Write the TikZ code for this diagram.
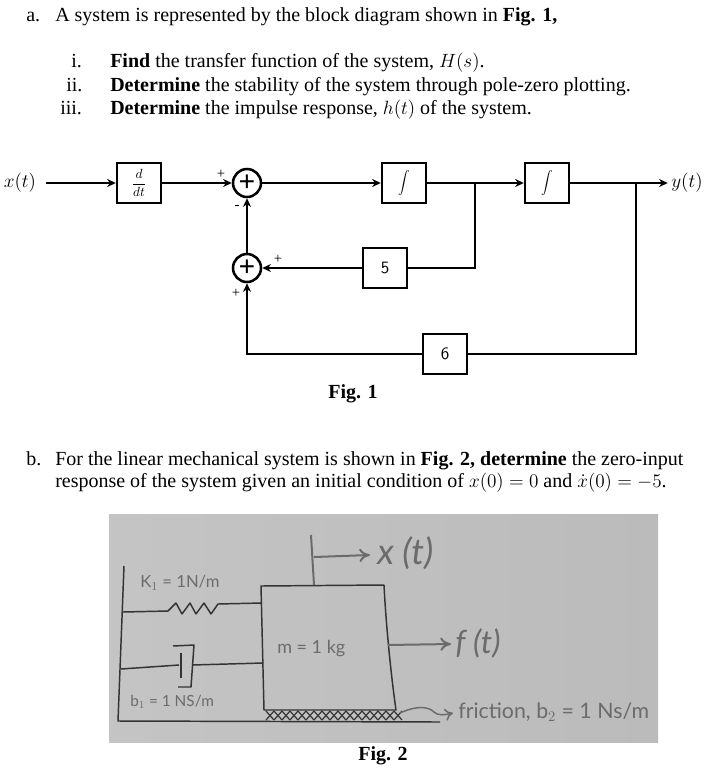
\documentclass[tikz,border=0pt]{standalone}
\usepackage{amsmath,amssymb}
\usepackage{fontspec}
\setmainfont{Liberation Serif}
\newfontfamily\mao{Lato}
\usepackage{xcolor}
\usetikzlibrary{arrows.meta}
\usetikzlibrary{positioning}
\definecolor{papel}{gray}{0.78}
\definecolor{caneta}{gray}{0.2}
\definecolor{lapis}{gray}{0.42}
\newcommand{\corpo}[1]{\fontsize{#1}{#1}\selectfont}
\tikzset{
  texto/.style={anchor=base west, inner sep=0pt, font=\corpo{15}},
  bloco/.style={draw, line width=1.8pt, minimum width=33pt, minimum height=30pt, inner sep=0pt, font=\sffamily\corpo{13}},
  soma/.style={draw, circle, line width=1.9pt, minimum size=21pt, inner sep=0pt, font=\corpo{22}\bfseries},
  sinal/.style={inner sep=0pt, font=\corpo{11}},
  linha/.style={line width=1.7pt},
  seta/.style={linha, -{Stealth[length=6.5pt,width=6pt]}},
  mola/.style={caneta, line width=1.1pt, line join=round},
  escrita/.style={lapis, inner sep=0pt, anchor=west},
  traco/.style={lapis, line width=1.5pt, -{To[length=8pt,width=10pt]}},
}
\begin{document}
\begin{tikzpicture}[x=0.75pt, y=-0.75pt]
  \useasboundingbox (0,0) rectangle (706,769);

  % Enunciado a
  \node[texto] (a0) at (26,21) {a.};
  \node[texto] (a0t) at (55,21) {A system is represented by the block diagram shown in \textbf{Fig. 1,}};
  \node[texto] (i1) at (71,67) {i.};
  \node[texto] (i1t) at (110,67) {\textbf{Find} the transfer function of the system, $H(s)$.};
  \node[texto] (i2) at (66,91) {ii.};
  \node[texto] (i2t) at (110,91) {\textbf{Determine} the stability of the system through pole-zero plotting.};
  \node[texto] (i3) at (60,114) {iii.};
  \node[texto] (i3t) at (110,114) {\textbf{Determine} the impulse response, $h(t)$ of the system.};

  % Diagrama de blocos
  \node[inner xsep=7.5pt, inner ysep=0pt, font=\corpo{14}] (xt) at (20,183) {$x(t)$};
  \node[bloco] (dd) at (139,183) {\corpo{10}$\dfrac{d}{dt}$};
  \node[soma] (s1) at (247,183) {+};
  \node[bloco] (int1) at (404,183) {\corpo{8.5}$\displaystyle\int$};
  \node[bloco] (int2) at (547,183) {\corpo{8.5}$\displaystyle\int$};
  \node[inner xsep=2.5pt, inner ysep=0pt, font=\corpo{14}] (yt) at (687,183) {$y(t)$};
  \node[soma] (s2) at (247,268) {+};
  \node[bloco] (b5) at (385,268) {5};
  \node[bloco] (b6) at (445,354) {6};
  \coordinate (j1) at (475,183);
  \coordinate (j2) at (636,183);
  \draw[seta] (xt) -- (dd);
  \draw[seta] (dd) -- (s1);
  \draw[seta] (s1) -- (int1);
  \draw[seta] (int1) -- (int2);
  \draw[seta] (int2) -- (yt);
  \draw[linha] (j1) |- (b5);
  \draw[seta] (b5) -- (s2);
  \draw[seta] (s2) -- (s1);
  \draw[linha] (j2) |- (b6);
  \draw[seta] (b6) -| (s2);
  \node[sinal] (p1) at (221,174) {+};
  \node[sinal] (p2) at (237,207) {-};
  \node[sinal] (p3) at (278,259) {+};
  \node[sinal] (p4) at (236,293) {+};
  \node[font=\corpo{15}\bfseries, inner sep=0pt] (f1) at (353,394) {Fig. 1};

  % Enunciado b
  \node[texto] (b0) at (26,465) {b.};
  \node[texto] (b0t) at (55,465) {For the linear mechanical system is shown in \textbf{Fig. 2, determine} the zero-input};
  \node[texto] (b1t) at (55,487) {response of the system given an initial condition of $x(0)=0$ and $\dot{x}(0)=-5$.};

  % Foto do sistema
  \fill[left color=papel!105!white, right color=papel!94!black] (109,514) rectangle (658,742);
  \draw[mola] (124,566) -- (118,721) -- (440,722);
  \draw[mola] (261,586) -- (384,585) .. controls (386,625) and (391,675) .. (396,710) -- (264,710) -- cycle;
  % mola
  \draw[mola] (123,612) -- (168,611) -- (176,603) -- (182,614) -- (190,603) -- (196,614) -- (204,603) -- (211,614) -- (218,604) -- (262,603);
  % amortecedor
  \draw[mola] (121,669) -- (179,665);
  \draw[mola, line width=1.5pt] (181,653) -- (181,678);
  \draw[mola] (173,646) -- (194,645) -- (191,687) -- (178,687);
  \draw[mola] (192,665) -- (263,663);
  % atrito
  \foreach \px in {266,274,...,394} {
    \draw[caneta, line width=0.9pt] (\px,711) -- (\px+8,720);
    \draw[caneta, line width=0.9pt] (\px+8,711) -- (\px,720);
  }
  \draw[lapis, line width=1.1pt, -{To[length=6pt,width=9pt]}] (400,713) .. controls (420,704) and (430,708) .. (434,712) .. controls (438,716) and (445,715) .. (453,713);
  % entradas
  \draw[lapis, line width=1.5pt] (311,535) -- (314,585);
  \draw[traco] (314,557) -- (370,555);
  \draw[traco] (388,645) -- (451,644);
  \node[escrita, font=\mao\corpo{12.5}] (k1) at (140,583) {K$_1$ = 1N/m};
  \node[escrita, font=\mao\corpo{11.5}] (b1) at (130,702) {b$_1$ = 1 NS/m};
  \node[escrita, font=\mao\corpo{13.5}] (m1) at (277,649) {m = 1 kg};
  \node[escrita, font=\mao\corpo{27}\itshape] (xp) at (377,553) {x (t)};
  \node[escrita, font=\mao\corpo{24}\itshape] (fp) at (455,643) {f (t)};
  \node[escrita, font=\mao\corpo{16}] (fr) at (458,712) {friction, b$_2$ = 1 Ns/m};
  \node[font=\corpo{15}\bfseries, inner sep=0pt] (f2) at (383,756) {Fig. 2};
\end{tikzpicture}
\end{document}
